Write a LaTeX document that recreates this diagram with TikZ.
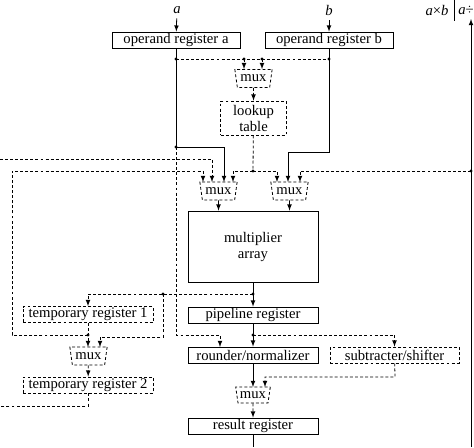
\documentclass[tikz,border=0pt]{standalone}
\usepackage{fontspec}
\setmainfont{Liberation Serif}
\usetikzlibrary{shapes.geometric}
\begin{document}
\begin{tikzpicture}[x=0.75pt,y=-0.75pt,
		font=\fontsize{11}{12}\selectfont,
		line width=0.6pt,
		ctl/.style={dash pattern=on 2.2pt off 1.6pt},
		reg/.style={draw,rectangle,minimum width=97.5pt,minimum height=12pt,inner sep=0pt},
		mux/.style={draw,ctl,trapezium,trapezium angle=74,trapezium stretches=true,shape border rotate=180,minimum width=28pt,minimum height=13.5pt,inner sep=0pt}]
		\useasboundingbox (0,0) rectangle (474,447);
		% header
		\node (hMul) at (437,10) {\textit{a}×\textit{b}};
		\node[anchor=west,inner sep=0pt] (hDiv) at (458,10) {\textit{a}÷};
		\coordinate (hSepT) at (454,0);
		\coordinate (hSepB) at (454,21);
		\draw (hSepT) -- (hSepB);
		% blocks
		\node (lblA) at (177,10) {\textit{a}};
		\node (lblB) at (329,10) {\textit{b}};
		\node[reg,minimum width=96pt] (regA) at (176,40) {operand register a};
		\node[reg,minimum width=96pt] (regB) at (329,40) {operand register b};
		\node[mux] (muxT) at (253.5,78.5) {mux};
		\node[reg,ctl,minimum width=49pt,minimum height=25.5pt,align=center] (lut) at (253.5,118) {lookup\\table};
		\node[mux] (muxL) at (218.5,191) {mux};
		\node[mux] (muxR) at (289.5,191) {mux};
		\node[reg,minimum height=53.25pt,align=center] (mult) at (253,246.5) {multiplier\\array};
		\node[reg] (pipe) at (253,315) {pipeline register};
		\node[reg,ctl] (tmpA) at (88,314.5) {temporary register 1};
		\node[mux] (muxC) at (88.5,356) {mux};
		\node[reg,ctl] (tmpB) at (88,385) {temporary register 2};
		\node[reg] (round) at (253,355) {rounder/normalizer};
		\node[reg,ctl,minimum width=96.75pt] (subsh) at (394.5,355) {subtracter/shifter};
		\node[mux,minimum width=26pt,minimum height=12pt] (muxD) at (253,395) {mux};
		\node[reg] (result) at (253,426) {result register};
		% junctions and ports
		\coordinate (bA) at (176,59);
		\coordinate (bB) at (329,59);
		\coordinate (bT1) at (244,59);
		\coordinate (bT2) at (262,59);
		\coordinate (jA) at (176,147);
		\coordinate (jB) at (329,152);
		\coordinate (jL) at (253,171);
		\coordinate (jF) at (471,171);
		\coordinate (jP) at (253,294);
		\coordinate (jQ) at (163,294);
		\coordinate (jT) at (88,335);
		\coordinate (jR) at (253,335);
		\coordinate (kA) at (176,335);
		\coordinate (kQ) at (163,337);
		\coordinate (kS) at (395,377);
		\coordinate (inL) at (0,159);
		\coordinate (fbL) at (12,171);
		\coordinate (fbB) at (471,447);
		\coordinate (fbT) at (471,19);
		\coordinate (outL) at (0,406);
		\coordinate (outR) at (253,447);
		\coordinate (muxLa) at (203,182);
		\coordinate (muxLb) at (212,182);
		\coordinate (muxLc) at (224,182);
		\coordinate (muxLd) at (233,182);
		\coordinate (muxRa) at (277,182);
		\coordinate (muxRb) at (288,182);
		\coordinate (muxRc) at (300,182);
		\coordinate (muxCa) at (88,347);
		\coordinate (muxCb) at (100,347);
		\coordinate (muxDa) at (253,387);
		\coordinate (muxDb) at (265,387);
		\coordinate (rndB) at (220,347);
		% operands
		\draw[-latex] (lblA) -- (regA);
		\draw[-latex] (lblB) -- (regB);
		\draw[-latex] (regA) -- (jA) -| (muxLc);
		\draw[-latex] (regB) -- (jB) -| (muxRb);
		\draw[ctl] (bA) -- (bB);
		\draw[ctl,-latex] (bT1) -- (bT1 |- muxT.north);
		\draw[ctl,-latex] (bT2) -- (bT2 |- muxT.north);
		\draw[ctl,-latex] (muxT) -- (lut);
		\draw[ctl] (lut) -- (jL);
		\draw[ctl,-latex] (jL) -| (muxLd);
		\draw[ctl,-latex] (jL) -| (muxRa);
		\draw[ctl,-latex] (inL) -| (muxLb);
		\draw[ctl,-latex] (jF) -| (muxRc);
		\draw[ctl,-latex] (jT) -| (fbL) -| (muxLa);
		\draw[-latex] (fbB) -- (fbT);
		% multiplier and after
		\draw[-latex] (muxL) -- (muxL |- mult.north);
		\draw[-latex] (muxR) -- (muxR |- mult.north);
		\draw (mult) -- (jP);
		\draw[-latex] (jP) -- (pipe);
		\draw[ctl,-latex] (jP) -| (tmpA);
		\draw[ctl,-latex] (jQ) -- (kQ) -| (muxCb);
		\draw[ctl,-latex] (tmpA) -- (muxCa);
		\draw[ctl,-latex] (muxC) -- (tmpB);
		\draw[ctl] (tmpB) |- (outL);
		\draw (pipe) -- (jR);
		\draw[-latex] (jR) -- (round);
		\draw[ctl,-latex] (jR) -| (subsh);
		\draw[ctl,-latex] (jA) -- (kA) -| (rndB);
		\draw[-latex] (round) -- (muxDa);
		\draw[ctl,-latex] (subsh) -- (kS) -| (muxDb);
		\draw[ctl,-latex] (muxD) -- (result);
		\draw (result) -- (outR);
		\foreach \p in {bA,bB,bT1,bT2,jA,jL,jF,jP,jQ,jT,jR}
			\fill (\p) circle (1.3pt);
	\end{tikzpicture}
\end{document}
